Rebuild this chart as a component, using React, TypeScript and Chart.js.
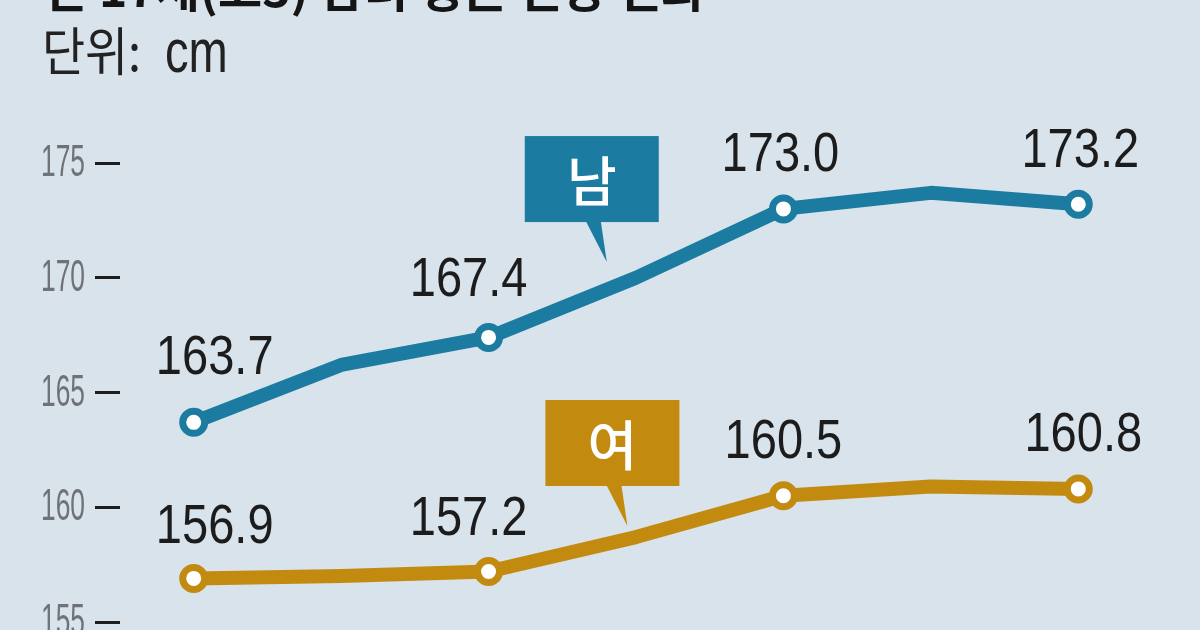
import React, { useEffect, useRef } from 'react';
import { Chart, registerables } from 'chart.js';

Chart.register(...registerables);

// ---- data ----
const categories = ['1', '2', '3', '4', '5', '6', '7'];
const maleHeights = [163.7, 166.2, 167.4, 170.0, 173.0, 173.7, 173.2];
const femaleHeights = [156.9, 157.0, 157.2, 158.7, 160.5, 160.9, 160.8];
const labeledPoints = [0, 2, 4, 6];
const yTickValues = [155, 160, 165, 170, 175];
const seriesNames = ['남', '여'];
const titleText = '만 17세(고3) 남녀 평균 신장 변화';
const unitText = '단위:';
const unitSymbol = 'cm';

// ---- styles ----
const BLUE = '#1b7ba1';
const GOLD = '#c28b0f';
const BG = '#d9e3ec';
const SANS = "'Liberation Sans', Arial, sans-serif";
const KR = "'Noto Sans CJK KR', 'Noto Sans', sans-serif";

const LABEL_OFFSETS = [
  { dx: [21, 0, -20, 0, -3, 0, 2], dy: [64, 0, 57, 0, 53, 0, 53] },
  { dx: [21, 0, -20, 0, 0, 0, 5], dy: [51, 0, 52, 0, 53, 0, 53] },
];
const CALLOUTS = [
  { ds: 0, at: 2.7, level: 174.3 },
  { ds: 1, at: 2.84, level: 162.8 },
];

const valueLabelPlugin = {
  id: 'valueLabels',
  afterDatasetsDraw(chart: any) {
    const ctx = chart.ctx;
    chart.data.datasets.forEach((ds: any, di: number) => {
      const meta = chart.getDatasetMeta(di);
      labeledPoints.forEach((i) => {
        const el = meta.data[i];
        if (!el) return;
        const off = LABEL_OFFSETS[di];
        ctx.save();
        ctx.translate(el.x + off.dx[i], el.y - off.dy[i]);
        ctx.scale(0.84, 1);
        ctx.font = `56px ${SANS}`;
        ctx.fillStyle = '#1c1c1c';
        ctx.textAlign = 'center';
        ctx.textBaseline = 'middle';
        ctx.fillText(Number(ds.data[i]).toFixed(1), 0, 0);
        ctx.restore();
      });
    });
  },
};

const yLabelPlugin = {
  id: 'yLabels',
  afterDraw(chart: any) {
    const ctx = chart.ctx;
    const ys = chart.scales.y;
    const xRight = ys.right - 25 - 10;
    ys.ticks.forEach((t: any) => {
      const y = ys.getPixelForValue(t.value);
      ctx.save();
      ctx.translate(xRight, y);
      ctx.scale(0.6, 1);
      ctx.font = `44px ${SANS}`;
      ctx.fillStyle = '#6f7378';
      ctx.textAlign = 'right';
      ctx.textBaseline = 'middle';
      ctx.fillText(String(t.value), 0, 1);
      ctx.restore();
    });
  },
};

const calloutPlugin = {
  id: 'callouts',
  afterDatasetsDraw(chart: any) {
    const ctx = chart.ctx;
    const xs = chart.scales.x;
    const ys = chart.scales.y;
    ctx.save();
    CALLOUTS.forEach((c) => {
      const ds = chart.data.datasets[c.ds];
      const cx = xs.getPixelForValue(c.at);
      const cy = ys.getPixelForValue(c.level);
      const w = 134;
      const h = 86;
      const left = cx - w / 2;
      const top = cy - h / 2;
      const bottom = top + h;
      ctx.fillStyle = ds.borderColor;
      ctx.fillRect(left, top, w, h);
      ctx.beginPath();
      ctx.moveTo(cx - 6, bottom - 1);
      ctx.lineTo(cx + 9, bottom - 1);
      ctx.lineTo(cx + 15, bottom + 40);
      ctx.closePath();
      ctx.fill();
      ctx.fillStyle = '#ffffff';
      ctx.font = `500 54px ${KR}`;
      ctx.textAlign = 'center';
      ctx.textBaseline = 'middle';
      ctx.fillText(ds.label, cx, cy + 2);
    });
    ctx.restore();
  },
};

export default function App() {
  const canvasRef = useRef<HTMLCanvasElement | null>(null);

  useEffect(() => {
    if (!canvasRef.current) return;
    const marked = (ctx: any) => (labeledPoints.includes(ctx.dataIndex) ? 11 : 0);
    const chart = new Chart(canvasRef.current, {
      type: 'line',
      data: {
        labels: categories,
        datasets: [
          {
            label: seriesNames[0],
            data: maleHeights,
            borderColor: BLUE,
            backgroundColor: '#ffffff',
            borderWidth: 14,
            tension: 0,
            borderCapStyle: 'round',
            borderJoinStyle: 'round',
            pointRadius: marked,
            pointBackgroundColor: '#ffffff',
            pointBorderColor: BLUE,
            pointBorderWidth: 7,
          },
          {
            label: seriesNames[1],
            data: femaleHeights,
            borderColor: GOLD,
            backgroundColor: '#ffffff',
            borderWidth: 14,
            tension: 0,
            borderCapStyle: 'round',
            borderJoinStyle: 'round',
            pointRadius: marked,
            pointBackgroundColor: '#ffffff',
            pointBorderColor: GOLD,
            pointBorderWidth: 7,
          },
        ],
      },
      options: {
        responsive: false,
        maintainAspectRatio: false,
        animation: false,
        events: [],
        layout: { padding: { top: 163, right: 48, bottom: 18, left: 0 } },
        plugins: {
          legend: { display: false },
          tooltip: { enabled: false },
          title: { display: false },
        },
        scales: {
          x: {
            type: 'category',
            offset: true,
            display: false,
          },
          y: {
            min: 155,
            max: 175,
            afterBuildTicks: (s: any) => {
              s.ticks = yTickValues.map((v) => ({ value: v }));
            },
            afterFit: (s: any) => {
              s.width = 120;
            },
            border: { display: false },
            grid: {
              drawOnChartArea: false,
              drawTicks: true,
              tickLength: 25,
              tickWidth: 3,
              tickColor: '#1e1e1e',
            },
            ticks: { display: false },
          },
        },
      } as any,
      plugins: [valueLabelPlugin, calloutPlugin, yLabelPlugin],
    });
    return () => chart.destroy();
  }, []);

  return (
    <div
      style={{
        position: 'fixed',
        left: 0,
        top: 0,
        width: 1200,
        height: 630,
        overflow: 'hidden',
        background: BG,
      }}
    >
      <canvas
        ref={canvasRef}
        width={1200}
        height={640}
        style={{ position: 'absolute', left: 0, top: 0, width: 1200, height: 640 }}
      />
      <div
        style={{
          position: 'absolute',
          left: 44,
          top: -38,
          fontFamily: KR,
          fontWeight: 700,
          fontSize: 48,
          lineHeight: '48px',
          color: '#151515',
          whiteSpace: 'nowrap',
        }}
      >
        {titleText}
      </div>
      <div
        style={{
          position: 'absolute',
          left: 42,
          top: 23,
          fontFamily: KR,
          fontSize: 52,
          lineHeight: '52px',
          color: '#222222',
          whiteSpace: 'nowrap',
          transform: 'scaleX(0.9)',
          transformOrigin: 'left top',
        }}
      >
        {unitText}
      </div>
      <div
        style={{
          position: 'absolute',
          left: 165,
          top: 20,
          fontFamily: SANS,
          fontSize: 62,
          lineHeight: '62px',
          color: '#222222',
          whiteSpace: 'nowrap',
          transform: 'scaleX(0.76)',
          transformOrigin: 'left top',
        }}
      >
        {unitSymbol}
      </div>
    </div>
  );
}
